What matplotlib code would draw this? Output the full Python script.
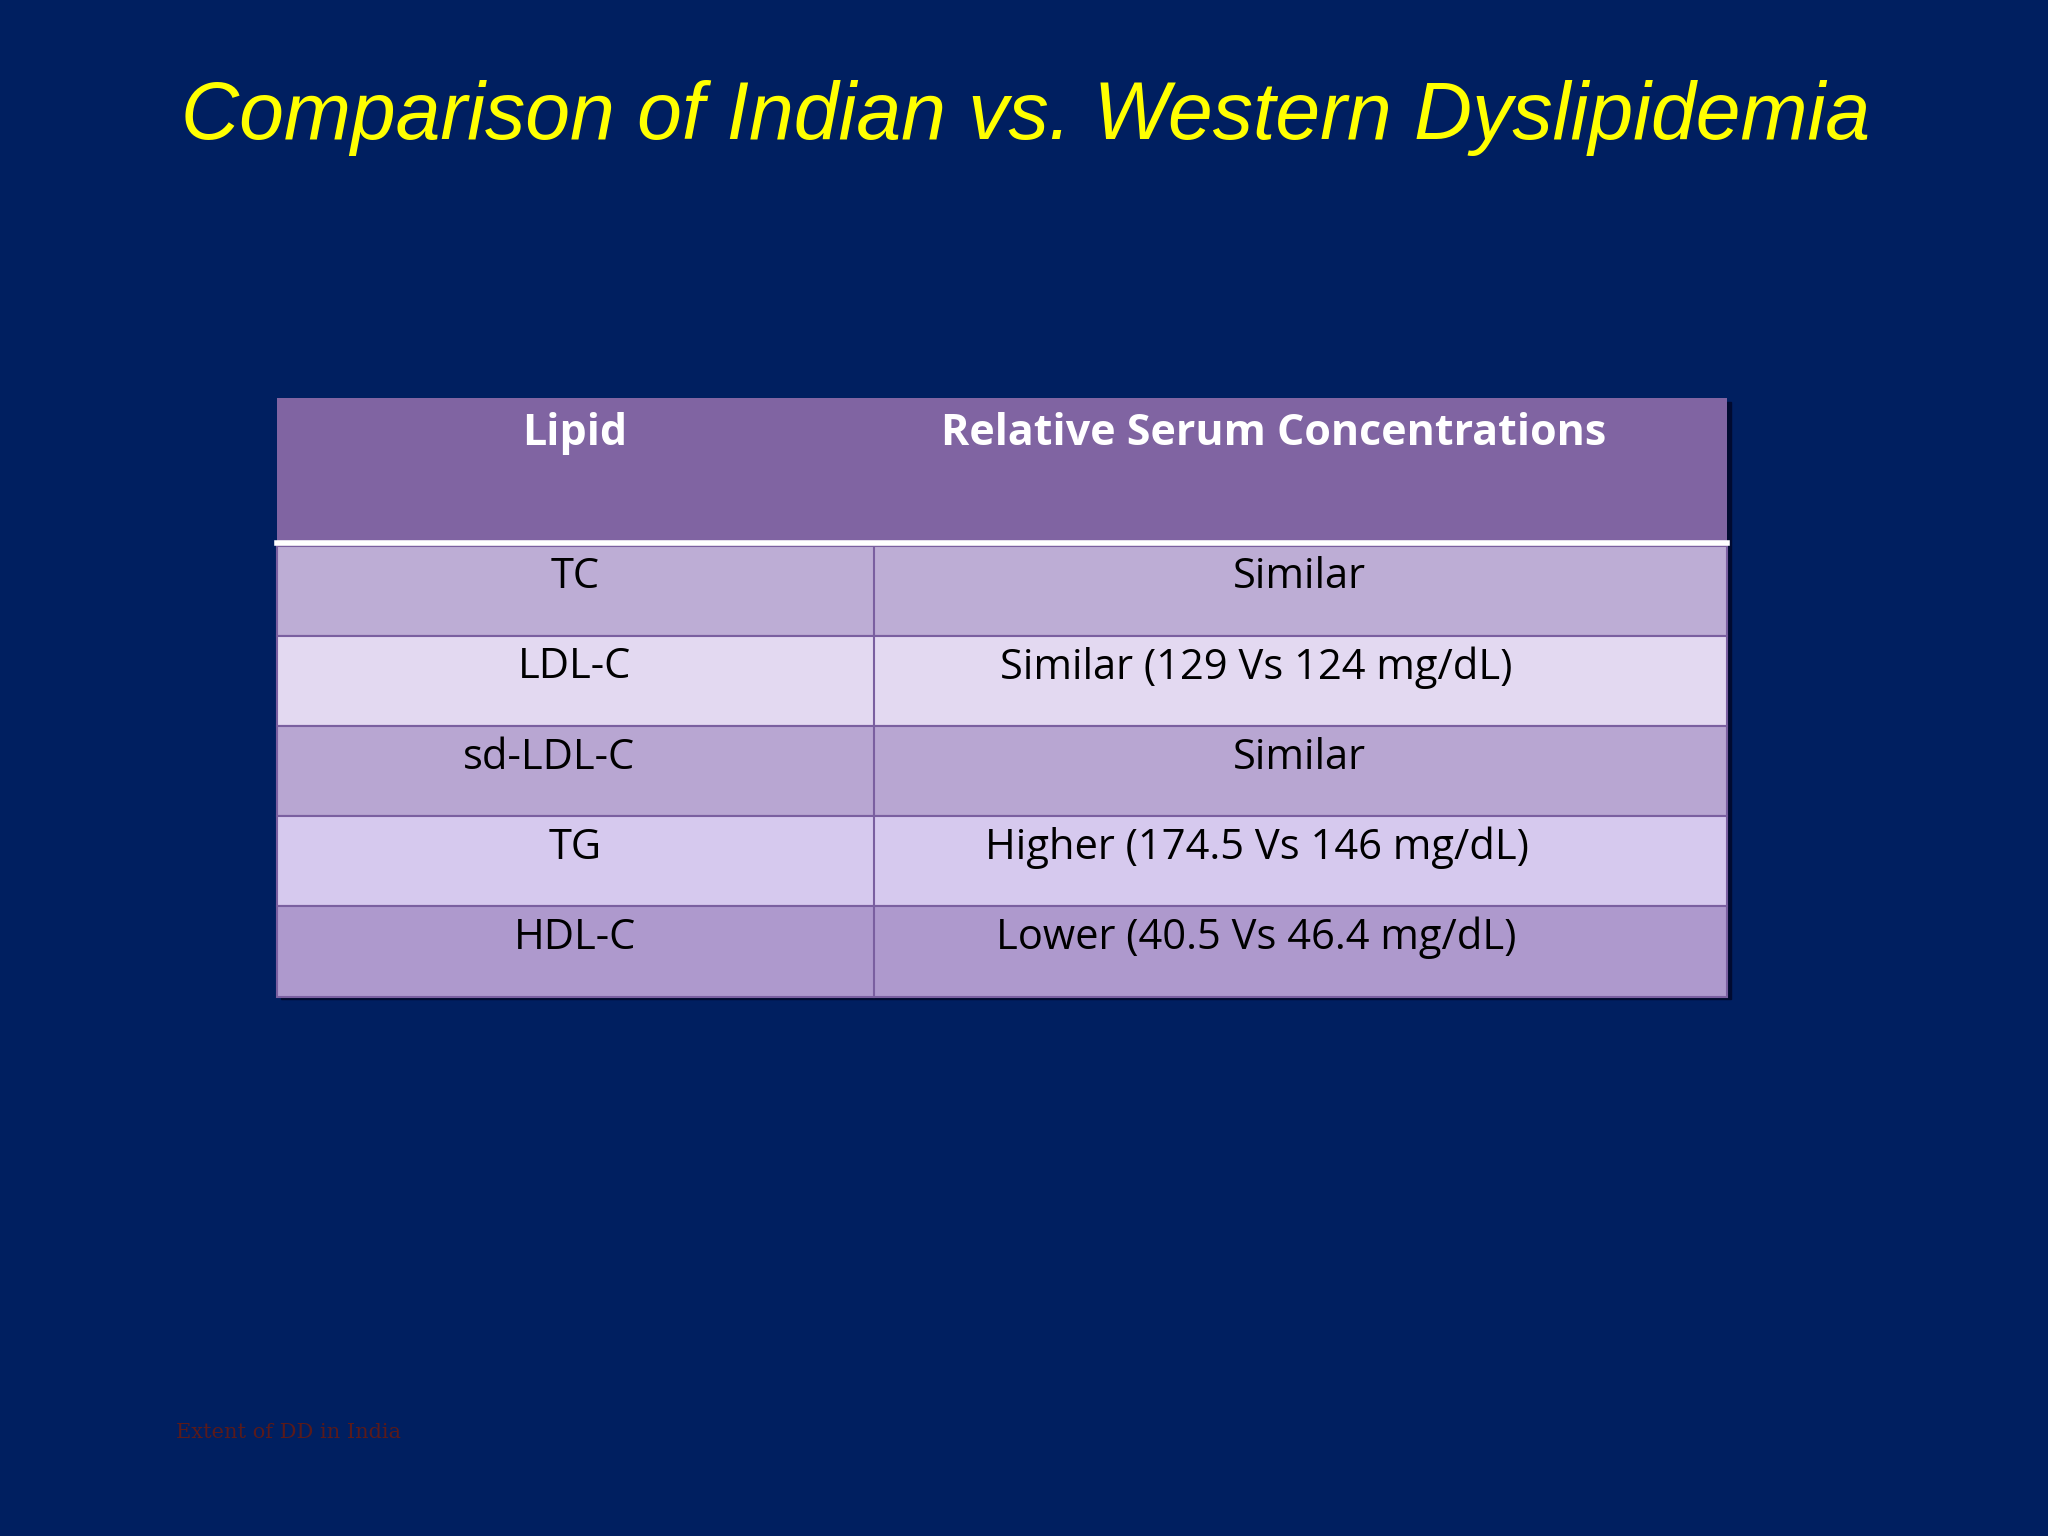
import matplotlib
matplotlib.use("Agg")
import matplotlib.pyplot as plt
from matplotlib.patches import Rectangle

title = "Comparison of Indian vs. Western Dyslipidemia"
headers = ["Lipid", "Relative Serum Concentrations"]
lipids = ["TC", "LDL-C", "sd-LDL-C", "TG", "HDL-C"]
concentrations = ["Similar", "Similar (129 Vs 124 mg/dL)", "Similar",
                  "Higher (174.5 Vs 146 mg/dL)", "Lower (40.5 Vs 46.4 mg/dL)"]
footer = "Extent of DD in India"

W, H = 1568, 1176
fig = plt.figure(figsize=(20.48, 15.36), dpi=100)
fig.patch.set_facecolor("#001F60")
ax = fig.add_axes([0, 0, 1, 1])
ax.set_xlim(0, W); ax.set_ylim(H, 0); ax.axis("off")
ax.set_facecolor("#001F60")

ax.text(785, 90, title, color="#FFFF00", fontsize=58, style="italic",
        family="Liberation Sans", ha="center", va="center")

x0, xm, x1 = 212, 669, 1322
ytop, yh = 305, 415
rh = 69
row_colors = ["#BDADD5", "#E3D9F1", "#B8A6D2", "#D6C9EE", "#AE99CD"]
# shadow
ax.add_patch(Rectangle((x0+3, ytop+3), x1-x0, yh-ytop+2+rh*5, color="#000A30", zorder=0))
ax.add_patch(Rectangle((x0, ytop), x1-x0, yh-ytop, facecolor="#8064A2", edgecolor="none", zorder=1))
ax.text(440, 332, headers[0], color="white", fontsize=31, fontweight="bold",
        family="Open Sans", ha="center", va="center", zorder=3)
ax.text(975, 332, headers[1], color="white", fontsize=31, fontweight="bold",
        family="Open Sans", ha="center", va="center", zorder=3)
ax.plot([x0, x1], [416, 416], color="white", lw=4, zorder=3)
ys = 418
for i, (lip, conc) in enumerate(zip(lipids, concentrations)):
    y = ys + i * rh
    ax.add_patch(Rectangle((x0, y), x1-x0, rh, facecolor=row_colors[i],
                           edgecolor="#7A5FA0", lw=1.5, zorder=1))
    ax.plot([xm, xm], [y, y+rh], color="#7A5FA0", lw=1.5, zorder=2)
    ax.text(440 if lip != "sd-LDL-C" else 420, y + 24, lip, color="black", fontsize=30,
            family="Open Sans", ha="center", va="center", zorder=3)
    ax.text(995 if conc == "Similar" else 962, y + 24, conc, color="black", fontsize=30,
            family="Open Sans", ha="center", va="center", zorder=3)

ax.text(135, 1097, footer, color="#5A1A1A", fontsize=15, family="DejaVu Serif",
        ha="left", va="center")
fig.savefig("out.png", dpi=100, facecolor=fig.get_facecolor())
